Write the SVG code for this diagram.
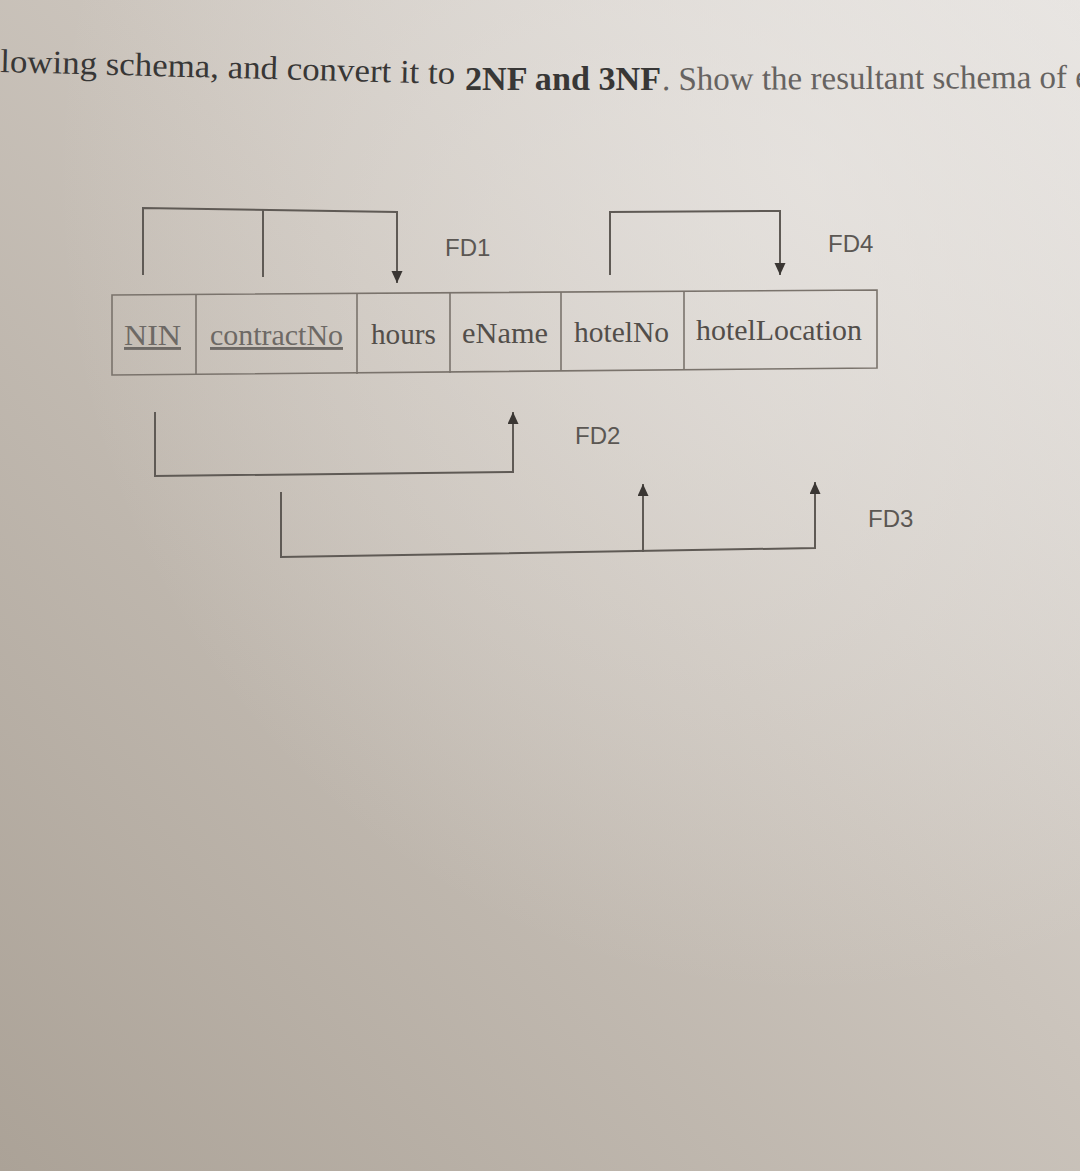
<svg xmlns="http://www.w3.org/2000/svg" width="1080" height="1171" viewBox="0 0 1080 1171">
<defs>
<linearGradient id="bg" x1="1" y1="0" x2="0" y2="1">
<stop offset="0" stop-color="#e6e3e0"/>
<stop offset="0.45" stop-color="#cbc4bc"/>
<stop offset="1" stop-color="#aba297"/>
</linearGradient>
<radialGradient id="glow" cx="0.75" cy="0.15" r="0.7">
<stop offset="0" stop-color="#ece9e6" stop-opacity="0.6"/>
<stop offset="1" stop-color="#ece9e6" stop-opacity="0"/>
</radialGradient>
<marker id="arr" markerUnits="userSpaceOnUse" markerWidth="12" markerHeight="12" refX="12" refY="5.5" orient="auto">
<path d="M0,0 L12,5.5 L0,11 z" fill="#3a3633"/>
</marker>
<style>
.hdr{font-family:"Liberation Serif","Times New Roman",serif;font-size:33px;fill:#383736}
.hdr2{font-family:"Liberation Serif","Times New Roman",serif;font-size:33px;fill:#666361}
.cell{font-family:"Liberation Serif","Times New Roman",serif;font-size:29px;fill:#524e4a}
.key{fill:#6d6965;text-decoration:underline}
.fd{font-family:"Liberation Sans Narrow","Liberation Sans",Arial,sans-serif;font-size:24px;fill:#5b5753}
.ln{fill:none;stroke:#5f5a55;stroke-width:2}
.tb{fill:none;stroke:#7a736c;stroke-width:1.6}
</style>
</defs>
<rect width="1080" height="1171" fill="url(#bg)"/>
<rect width="1080" height="1171" fill="url(#glow)"/>

<g id="heading">
<text class="hdr" x="0" y="72" transform="rotate(1.5 0 72)" textLength="455" lengthAdjust="spacingAndGlyphs">lowing schema, and convert it to</text>
<text class="hdr" x="465" y="90" font-weight="bold" textLength="196" lengthAdjust="spacingAndGlyphs">2NF and 3NF</text>
<text class="hdr2" x="662" y="90" transform="rotate(-0.3 662 90)" textLength="428" lengthAdjust="spacingAndGlyphs">. Show the resultant schema of e</text>
</g>

<g id="table">
<polygon class="tb" points="112,295 877,290 877,368 112,375"/>
<g id="cell-NIN"><line class="tb" x1="196" y1="294" x2="196" y2="375"/><text class="cell key" x="124" y="345" textLength="57" lengthAdjust="spacingAndGlyphs">NIN</text></g>
<g id="cell-contractNo"><line class="tb" x1="357" y1="293" x2="357" y2="374"/><text class="cell key" x="210" y="345" textLength="133" lengthAdjust="spacingAndGlyphs">contractNo</text></g>
<g id="cell-hours"><line class="tb" x1="450" y1="293" x2="450" y2="373"/><text class="cell" x="371" y="344" textLength="65" lengthAdjust="spacingAndGlyphs">hours</text></g>
<g id="cell-eName"><line class="tb" x1="561" y1="292" x2="561" y2="371"/><text class="cell" x="462" y="343" textLength="86" lengthAdjust="spacingAndGlyphs">eName</text></g>
<g id="cell-hotelNo"><line class="tb" x1="684" y1="291" x2="684" y2="370"/><text class="cell" x="574" y="342" textLength="95" lengthAdjust="spacingAndGlyphs">hotelNo</text></g>
<g id="cell-hotelLocation"><text class="cell" x="696" y="340" textLength="166" lengthAdjust="spacingAndGlyphs">hotelLocation</text></g>
</g>

<g id="connectors">
<g id="FD1">
<polyline class="ln" points="143,275 143,208 397,212 397,283" marker-end="url(#arr)"/>
<line class="ln" x1="263" y1="277" x2="263" y2="210"/>
<text class="fd" x="445" y="256">FD1</text>
</g>
<g id="FD4">
<polyline class="ln" points="610,275 610,212 780,211 780,275" marker-end="url(#arr)"/>
<text class="fd" x="828" y="252">FD4</text>
</g>
<g id="FD2">
<polyline class="ln" points="155,412 155,476 513,472 513,412" marker-end="url(#arr)"/>
<text class="fd" x="575" y="444">FD2</text>
</g>
<g id="FD3">
<polyline class="ln" points="281,492 281,557 815,548 815,482" marker-end="url(#arr)"/>
<line class="ln" x1="643" y1="552" x2="643" y2="484" marker-end="url(#arr)"/>
<text class="fd" x="868" y="527">FD3</text>
</g>
</g>
</svg>
